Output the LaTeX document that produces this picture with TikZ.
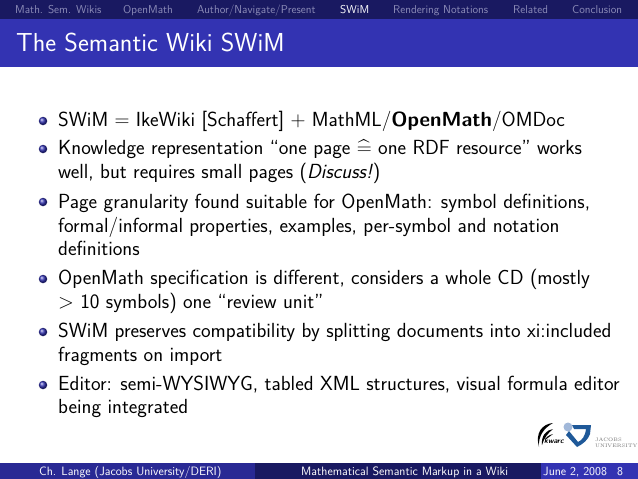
\documentclass[tikz,border=0pt]{standalone}
\usepackage{amssymb}
\usepackage{tikz}
\tikzset{>=latex}
\definecolor{navbar}{rgb}{0.1,0.1,0.38}
\definecolor{titlebar}{rgb}{0.2,0.2,0.7}
\definecolor{authorbar}{rgb}{0.16,0.16,0.58}
\definecolor{footbar}{rgb}{0.1,0.1,0.38}
\definecolor{navtext}{rgb}{0.55,0.55,0.72}
\definecolor{shieldblue}{rgb}{0.12,0.35,0.6}
\definecolor{balllight}{rgb}{0.63,0.72,0.85}
\tikzset{
  bodyline/.style={anchor=base west,inner sep=0pt,font=\fontsize{20.42}{24}\selectfont\sffamily},
  navitem/.style={anchor=base west,inner sep=0pt,text=navtext,font=\fontsize{11.4}{13}\selectfont\sffamily},
  footitem/.style={anchor=base west,inner sep=0pt,text=white,font=\fontsize{12.1}{14}\selectfont\sffamily},
  logotext/.style={anchor=base west,inner sep=0pt,text=black!55,font=\fontsize{5}{6}\selectfont\rmfamily},
  bulletball/.style={circle,inner sep=0pt,minimum size=8.5pt,ball color=titlebar}
}
\begin{document}
\begin{tikzpicture}[x=1pt,y=-1pt]
  \useasboundingbox (0,0) rectangle (638,479);
  % bars
  \fill[navbar] (0,0) rectangle (638,19);
  \fill[titlebar] (0,19) rectangle (638,67);
  \fill[authorbar] (0,463) rectangle (255,479);
  \fill[footbar] (255,463) rectangle (541,479);
  \fill[titlebar] (541,463) rectangle (638,479);
  % navigation
  \node[navitem] (nav1) at (15,13) {Math. Sem. Wikis};
  \node[navitem] (nav2) at (123,13) {OpenMath};
  \node[navitem] (nav3) at (197,13) {Author/Navigate/Present};
  \node[navitem,text=white] (nav4) at (340,13) {SWiM};
  \node[navitem] (nav5) at (393,13) {Rendering Notations};
  \node[navitem] (nav6) at (513,13) {Related};
  \node[navitem] (nav7) at (572,13) {Conclusion};
  % title
  \node[anchor=base west,inner sep=0pt,text=white,font=\fontsize{26}{31}\selectfont\sffamily] (title) at (16,52) {The Semantic Wiki SWiM};
  % bullets
  \foreach \name/\y in {b1/121,b2/149,b3/202,b4/279,b5/332,b6/385}
    \node[bulletball] (\name) at (43,\y) {};
  % body
  \node[bodyline] (l1) at (58,126) {SWiM $=$ IkeWiki [Schaffert] $+$ MathML/\textbf{OpenMath}/OMDoc};
  \node[bodyline] (l2) at (58,154) {Knowledge representation ``one page $\widehat{=}$ one RDF resource'' works};
  \node[bodyline] (l3) at (58,178) {well, but requires small pages (\textit{Discuss!})};
  \node[bodyline] (l4) at (58,208) {Page granularity found suitable for OpenMath: symbol definitions,};
  \node[bodyline] (l5) at (58,232) {formal/informal properties, examples, per-symbol and notation};
  \node[bodyline] (l6) at (58,255) {definitions};
  \node[bodyline] (l7) at (58,284) {OpenMath specification is different, considers a whole CD (mostly};
  \node[bodyline] (l8) at (58,308) {$>$ 10 symbols) one ``review unit''};
  \node[bodyline] (l9) at (58,337) {SWiM preserves compatibility by splitting documents into xi:included};
  \node[bodyline] (l10) at (58,361) {fragments on import};
  \node[bodyline] (l11) at (58,390) {Editor: semi-WYSIWYG, tabled XML structures, visual formula editor};
  \node[bodyline] (l12) at (58,413) {being integrated};
  % footer
  \node[footitem] (author) at (39,475) {Ch. Lange (Jacobs University/DERI)};
  \node[footitem] (talk) at (301,475) {Mathematical Semantic Markup in a Wiki};
  \node[footitem] (date) at (543,475) {June 2, 2008};
  \node[footitem] (page) at (617,475) {8};
  % logos
  \fill[black] (553,423) .. controls (542,424) and (535,433) .. (539,447) .. controls (538,436) and (544,428) .. (553,423);
  \fill[black] (553,429) .. controls (546,430) and (541,436) .. (542,445) .. controls (544,438) and (548,433) .. (553,429);
  \fill[black] (553,434) .. controls (549,435) and (546,437) .. (545,440) .. controls (548,438) and (550,436) .. (553,434);
  \node[anchor=base west,inner sep=0pt,font=\fontsize{7.5}{9}\selectfont\sffamily\bfseries\itshape] (kwarc) at (544,443) {kwarc};
  \fill[balllight] (568,427) circle (4.5);
  \fill[shieldblue] (572,425) -- (591,425) -- (590,434) .. controls (588,440) and (583,444) .. (577,447) -- (566,435) -- (569,431) -- (578,442) .. controls (582,440) and (585,437) .. (586,429) -- (574,429) -- cycle;
  \node[logotext] (jacobs) at (595,441) {JACOBS};
  \node[logotext] (univ) at (595,447) {UNIVERSITY};
\end{tikzpicture}
\end{document}
